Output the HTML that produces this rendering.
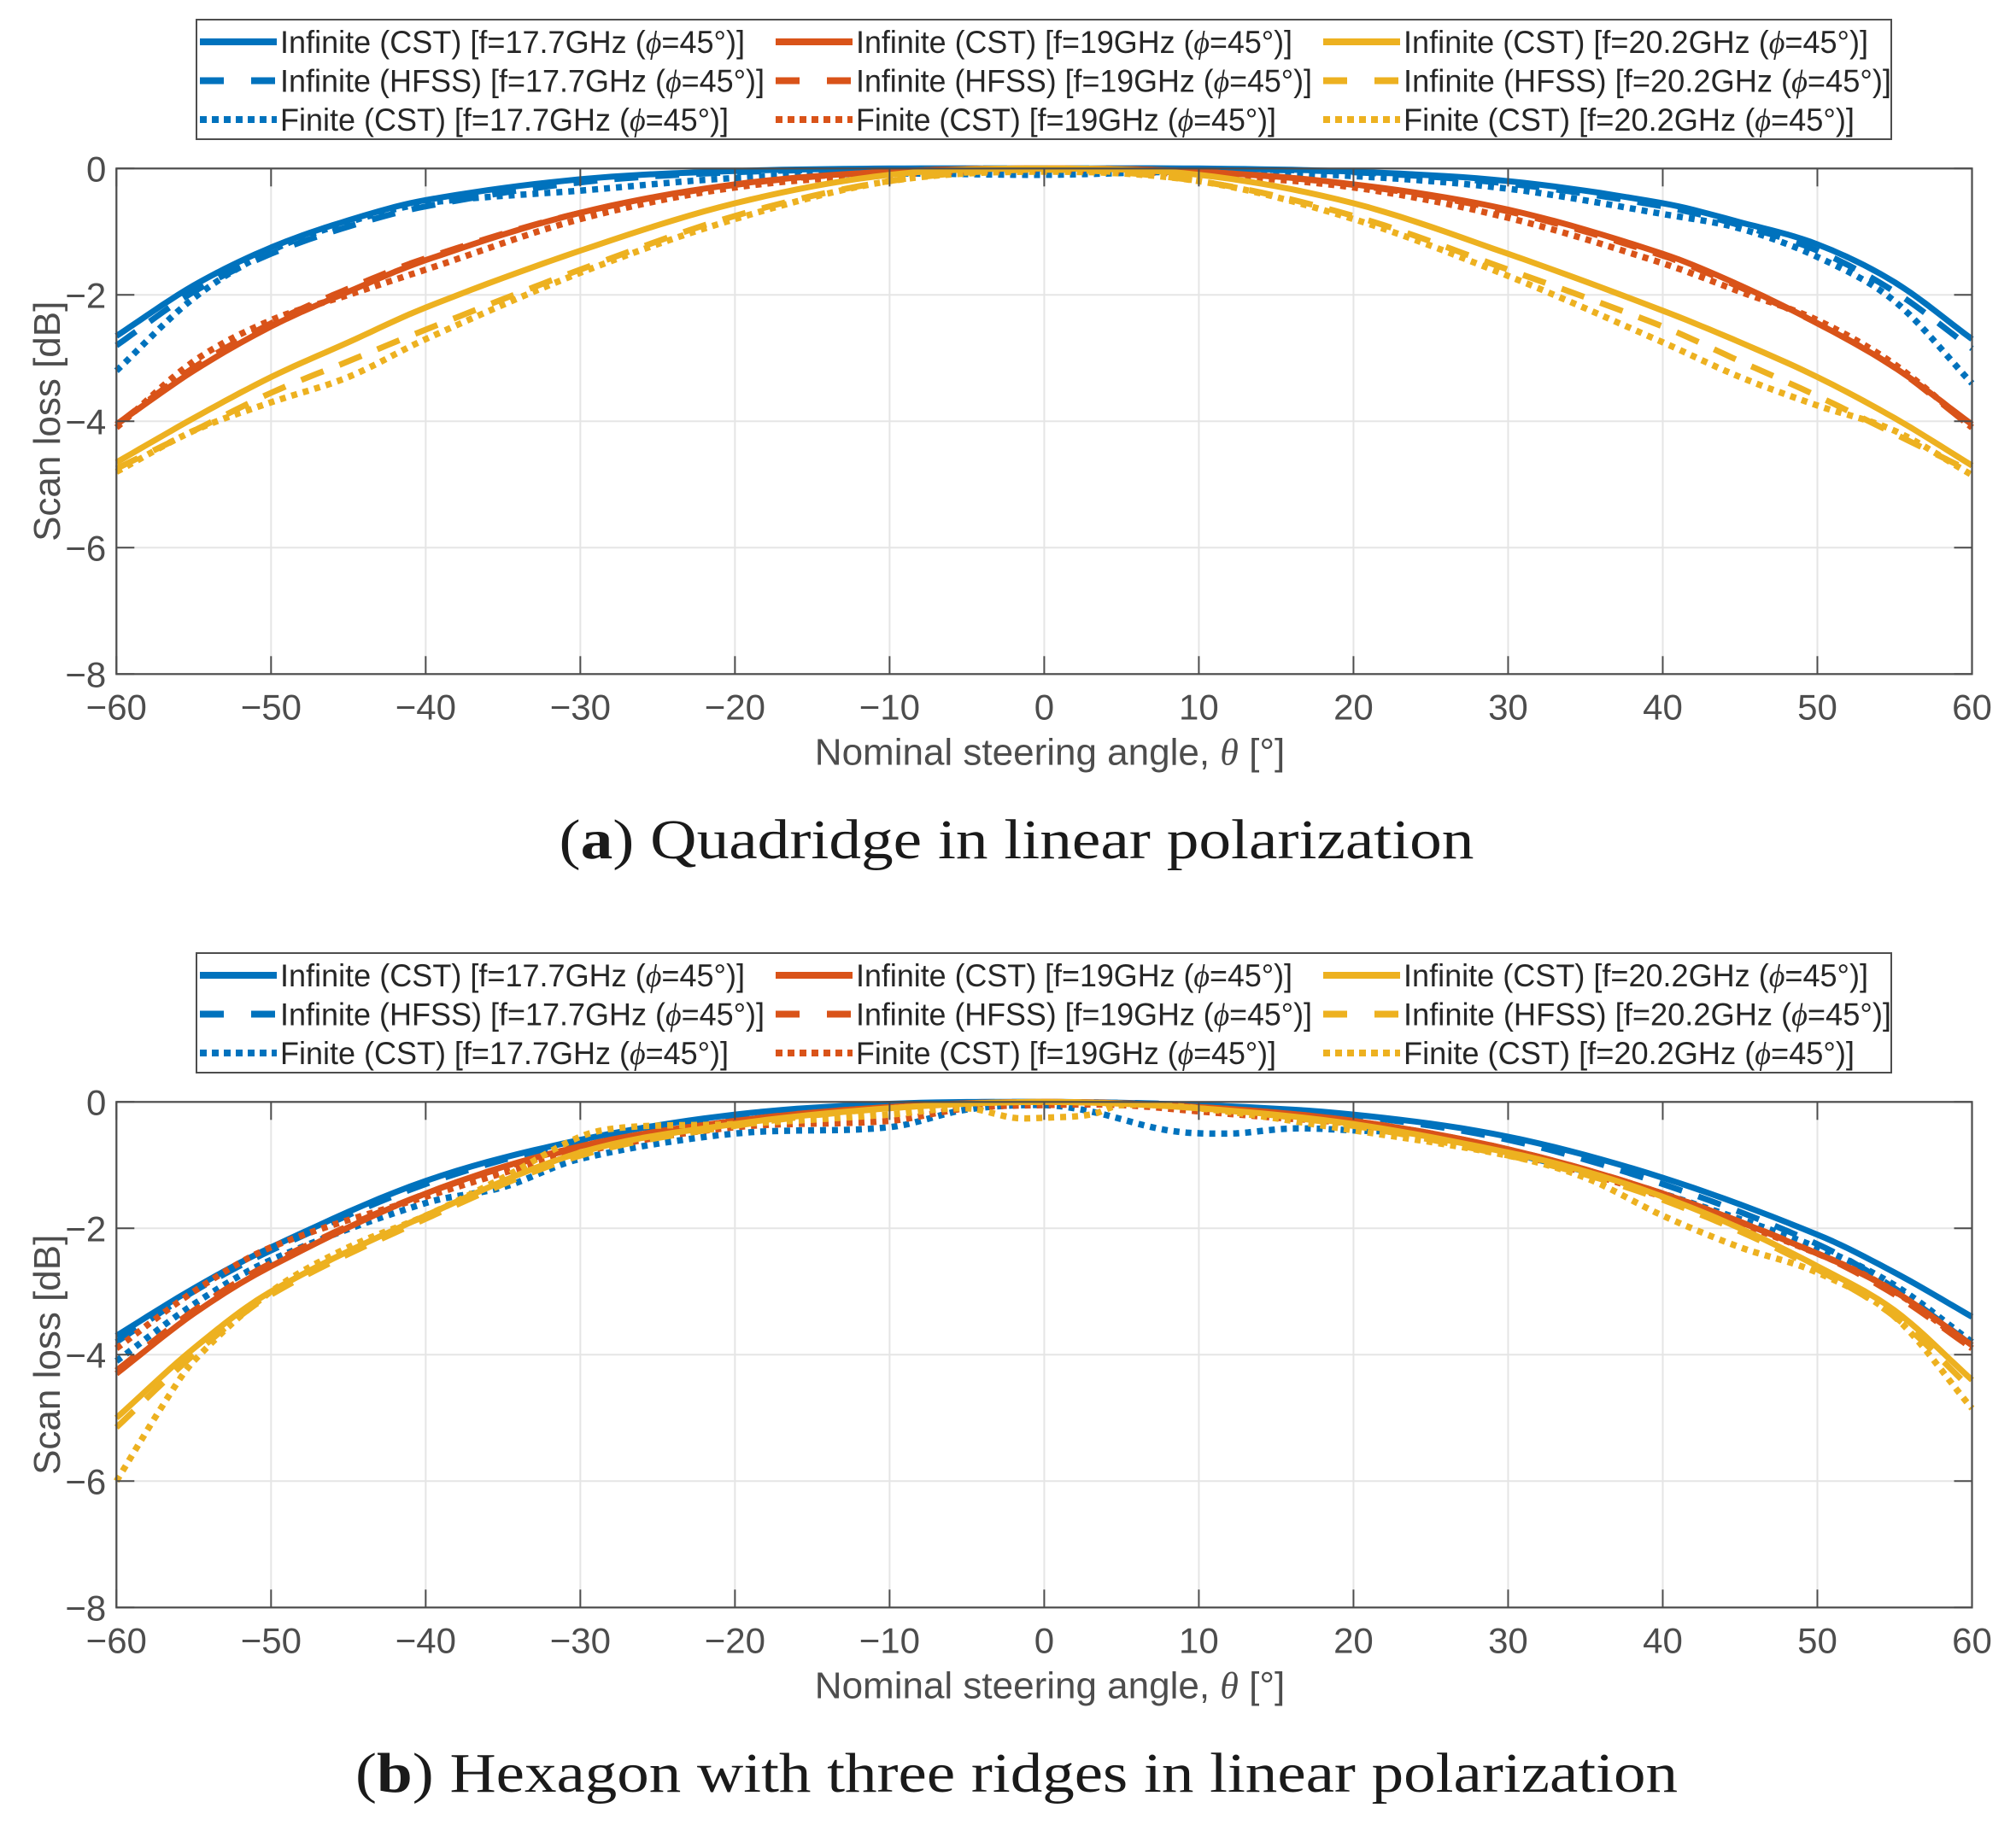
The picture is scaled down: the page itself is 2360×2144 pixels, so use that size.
<!DOCTYPE html>
<html><head><meta charset="utf-8"><style>
html,body{margin:0;padding:0;background:#fff;}
svg{display:block;}
</style></head><body>
<svg id="s" xmlns="http://www.w3.org/2000/svg" width="2360" height="2144" viewBox="0 0 2360 2144"></svg>
<script>
const S=document.getElementById('s');
const NS='http://www.w3.org/2000/svg';
function el(t,a,txt){const e=document.createElementNS(NS,t);for(const k in a)e.setAttribute(k,a[k]);if(txt!==undefined)e.textContent=txt;S.appendChild(e);return e;}
const L=136.3,R=2308.5,PX=(R-L)/120,PY=74;
const C=['#0072BD','#D95319','#EDB120'];
function interp(pts){ // monotone-ish catmull-rom sampling
  const out=[];
  for(let i=0;i<pts.length-1;i++){
    const p0=pts[Math.max(0,i-1)],p1=pts[i],p2=pts[i+1],p3=pts[Math.min(pts.length-1,i+2)];
    for(let t=0;t<1;t+=0.1){
      const t2=t*t,t3=t2*t;
      const x=p1[0]+(p2[0]-p1[0])*t;
      const m1=(p2[1]-p0[1])/(p2[0]-p0[0])*(p2[0]-p1[0]);
      const m2=(p3[1]-p1[1])/(p3[0]-p1[0])*(p2[0]-p1[0]);
      const y=(2*t3-3*t2+1)*p1[1]+(t3-2*t2+t)*m1+(-2*t3+3*t2)*p2[1]+(t3-t2)*m2;
      out.push([x,y]);
    }
  }
  out.push(pts[pts.length-1]);return out;
}
function axes(T){
  // grid
  for(let v=-60;v<=60;v+=10){const x=L+(v+60)*PX;el('line',{x1:x,y1:T,x2:x,y2:T+592,stroke:'#e5e5e5','stroke-width':2});}
  for(let v=0;v>=-8;v-=2){const y=T-v*PY;el('line',{x1:L,y1:y,x2:R,y2:y,stroke:'#e5e5e5','stroke-width':2});}
}
function frame(T){
  el('rect',{x:L,y:T,width:R-L,height:592,fill:'none',stroke:'#4d4d4d','stroke-width':2.2});
  for(let v=-60;v<=60;v+=10){const x=L+(v+60)*PX;
    el('line',{x1:x,y1:T+592,x2:x,y2:T+571,stroke:'#4d4d4d','stroke-width':2});
    el('line',{x1:x,y1:T,x2:x,y2:T+21,stroke:'#4d4d4d','stroke-width':2});
    el('text',{x:x,y:T+645,'font-family':'Liberation Sans, sans-serif','font-size':42,fill:'#4d4d4d','text-anchor':'middle'},(v<0?'\u2212':'')+Math.abs(v));}
  for(let v=0;v>=-8;v-=2){const y=T-v*PY;
    el('line',{x1:L,y1:y,x2:L+21,y2:y,stroke:'#4d4d4d','stroke-width':2});
    el('line',{x1:R,y1:y,x2:R-21,y2:y,stroke:'#4d4d4d','stroke-width':2});
    el('text',{x:L-12,y:y+15,'font-family':'Liberation Sans, sans-serif','font-size':42,fill:'#4d4d4d','text-anchor':'end'},(v<0?'\u2212':'')+Math.abs(v));}
  const xl=el('text',{x:1229,y:T+698,'font-family':'Liberation Sans, sans-serif','font-size':44,fill:'#4d4d4d','text-anchor':'middle'});
  xl.innerHTML='Nominal steering angle, <tspan font-family="Liberation Serif, serif" font-style="italic">θ</tspan> [°]';
  el('text',{x:0,y:0,transform:`translate(70,${T+296}) rotate(-90)`,'font-family':'Liberation Sans, sans-serif','font-size':44,fill:'#4d4d4d','text-anchor':'middle'},'Scan loss [dB]');
}
function series(T,data){
  data.forEach(([ci,style,pts])=>{
    const p=interp(pts).map(q=>[L+(q[0]+60)*PX,T-q[1]*PY]);
    const a={points:p.map(q=>q[0].toFixed(1)+','+q[1].toFixed(1)).join(' '),fill:'none',stroke:C[ci],'stroke-width':7,'stroke-linejoin':'round'};
    if(style==1)a['stroke-dasharray']='28 20';
    if(style==2){a['stroke-dasharray']='7 7';a['stroke-width']=7.5;}
    el('polyline',a);
  });
}
function legend(T){
  el('rect',{x:230,y:T,width:1984,height:140,fill:'#fff',stroke:'#4d4d4d','stroke-width':2});
  const cols=[231,905,1546];
  const freqs=['17.7','19','20.2'];
  const names=['Infinite (CST)','Infinite (HFSS)','Finite (CST)'];
  const widths=[[544,567,525],[511,534,492],[544,571,528]];
  for(let c=0;c<3;c++)for(let r=0;r<3;r++){
    const y=T+26+r*45.5;
    const a={x1:cols[c]+3,y1:y,x2:cols[c]+93,y2:y,stroke:C[c],'stroke-width':8};
    if(r==1)a['stroke-dasharray']='28 32';
    if(r==2){a['stroke-dasharray']='8 6';}
    el('line',a);
    const t=el('text',{x:cols[c]+97,y:y+13,'font-family':'Liberation Sans, sans-serif','font-size':37,fill:'#262626',textLength:widths[c][r],lengthAdjust:'spacingAndGlyphs'});
    t.innerHTML=`${names[r]} [f=${freqs[c]}GHz (<tspan font-family="Liberation Serif, serif" font-style="italic">ϕ</tspan>=45°)]`;
  }
}
// Plot 1
const T1=197.3,T2=1290.3;
axes(T1);
series(T1,[
 [0,0,[[-60,-2.65],[-55,-1.85],[-50,-1.25],[-45,-0.82],[-40,-0.5],[-30,-0.17],[-20,-0.04],[-10,0],[0,0],[10,0],[20,-0.05],[30,-0.2],[40,-0.55],[45,-0.85],[50,-1.2],[55,-1.8],[60,-2.7]]],
 [0,1,[[-60,-2.8],[-55,-1.95],[-50,-1.35],[-45,-0.92],[-40,-0.6],[-30,-0.22],[-20,-0.06],[-10,-0.01],[0,0],[10,-0.01],[20,-0.06],[30,-0.24],[40,-0.6],[45,-0.9],[50,-1.3],[55,-1.95],[60,-2.85]]],
 [0,2,[[-60,-3.2],[-55,-2.05],[-50,-1.3],[-45,-0.85],[-40,-0.55],[-30,-0.35],[-20,-0.15],[-10,-0.08],[0,-0.1],[10,-0.05],[20,-0.12],[30,-0.32],[40,-0.72],[45,-0.95],[50,-1.4],[55,-2.1],[60,-3.4]]],
 [1,0,[[-60,-4.05],[-55,-3.2],[-50,-2.5],[-45,-1.95],[-40,-1.45],[-30,-0.7],[-20,-0.25],[-10,-0.05],[0,0],[10,-0.05],[20,-0.25],[30,-0.65],[40,-1.35],[45,-1.85],[50,-2.45],[55,-3.15],[60,-4.05]]],
 [1,1,[[-60,-4.05],[-55,-3.15],[-50,-2.45],[-45,-1.9],[-40,-1.42],[-30,-0.7],[-20,-0.26],[-10,-0.05],[0,0],[10,-0.05],[20,-0.26],[30,-0.68],[40,-1.38],[45,-1.88],[50,-2.45],[55,-3.15],[60,-4.1]]],
 [1,2,[[-60,-4.1],[-55,-3.05],[-50,-2.4],[-45,-2.0],[-40,-1.6],[-30,-0.8],[-20,-0.3],[-10,-0.1],[0,-0.02],[10,-0.1],[20,-0.3],[30,-0.78],[40,-1.5],[45,-1.95],[50,-2.4],[55,-3.1],[60,-4.1]]],
 [2,0,[[-60,-4.65],[-55,-3.95],[-50,-3.3],[-45,-2.75],[-40,-2.2],[-30,-1.3],[-20,-0.55],[-10,-0.1],[0,0],[10,-0.1],[20,-0.55],[30,-1.35],[40,-2.25],[45,-2.75],[50,-3.3],[55,-3.95],[60,-4.7]]],
 [2,1,[[-60,-4.75],[-55,-4.15],[-50,-3.55],[-45,-3.05],[-40,-2.55],[-30,-1.6],[-20,-0.75],[-10,-0.2],[0,-0.02],[10,-0.2],[20,-0.75],[30,-1.6],[40,-2.5],[45,-3.05],[50,-3.6],[55,-4.2],[60,-4.8]]],
 [2,2,[[-60,-4.8],[-55,-4.15],[-50,-3.7],[-45,-3.3],[-40,-2.7],[-30,-1.65],[-20,-0.8],[-10,-0.2],[0,-0.05],[10,-0.2],[20,-0.8],[30,-1.7],[40,-2.75],[45,-3.3],[50,-3.75],[55,-4.15],[60,-4.85]]]
]);
frame(T1);legend(23);
// Plot 2
axes(T2);
series(T2,[
 [0,0,[[-60,-3.7],[-55,-2.95],[-50,-2.3],[-40,-1.25],[-30,-0.6],[-20,-0.2],[-10,-0.03],[0,0],[10,-0.05],[20,-0.2],[30,-0.55],[40,-1.2],[50,-2.1],[55,-2.7],[60,-3.4]]],
 [0,1,[[-60,-3.8],[-55,-3.0],[-50,-2.35],[-40,-1.3],[-30,-0.62],[-20,-0.22],[-10,-0.04],[0,0],[10,-0.05],[20,-0.22],[30,-0.6],[40,-1.3],[50,-2.25],[55,-2.95],[60,-3.85]]],
 [0,2,[[-60,-4.1],[-55,-3.2],[-50,-2.5],[-40,-1.6],[-35,-1.35],[-30,-0.9],[-20,-0.5],[-10,-0.4],[-5,-0.12],[0,-0.05],[3,-0.15],[8,-0.45],[12,-0.5],[16,-0.42],[20,-0.45],[25,-0.52],[30,-0.8],[35,-1.1],[40,-1.45],[50,-2.3],[55,-2.9],[60,-3.8]]],
 [1,0,[[-60,-4.3],[-55,-3.35],[-50,-2.6],[-40,-1.45],[-30,-0.7],[-20,-0.3],[-10,-0.08],[0,0],[10,-0.08],[20,-0.3],[30,-0.75],[40,-1.45],[50,-2.4],[55,-3.0],[60,-3.85]]],
 [1,1,[[-60,-4.25],[-55,-3.3],[-50,-2.55],[-40,-1.45],[-30,-0.72],[-20,-0.3],[-10,-0.08],[0,0],[10,-0.08],[20,-0.3],[30,-0.75],[40,-1.45],[50,-2.4],[55,-3.05],[60,-3.9]]],
 [1,2,[[-60,-3.9],[-55,-3.0],[-50,-2.3],[-40,-1.5],[-30,-0.8],[-20,-0.4],[-10,-0.3],[-5,-0.1],[0,-0.05],[5,-0.05],[10,-0.15],[15,-0.25],[20,-0.35],[30,-0.8],[40,-1.5],[50,-2.4],[55,-3.0],[60,-3.9]]],
 [2,0,[[-60,-5.0],[-55,-3.9],[-50,-3.0],[-40,-1.8],[-30,-0.8],[-20,-0.35],[-10,-0.1],[0,0],[10,-0.1],[20,-0.35],[30,-0.8],[35,-1.1],[40,-1.5],[45,-2.0],[50,-2.6],[55,-3.3],[60,-4.4]]],
 [2,1,[[-60,-5.15],[-55,-4.0],[-50,-3.05],[-40,-1.85],[-30,-0.85],[-20,-0.38],[-10,-0.1],[0,0],[10,-0.1],[20,-0.38],[30,-0.85],[35,-1.15],[40,-1.55],[45,-2.05],[50,-2.65],[55,-3.4],[60,-4.55]]],
 [2,2,[[-60,-6.0],[-57,-4.8],[-55,-4.1],[-50,-3.0],[-45,-2.3],[-40,-1.8],[-35,-1.2],[-30,-0.55],[-27,-0.4],[-20,-0.35],[-10,-0.2],[-5,-0.1],[-2,-0.25],[0,-0.25],[3,-0.2],[5,-0.05],[10,-0.1],[20,-0.45],[30,-0.85],[35,-1.2],[40,-1.8],[45,-2.3],[50,-2.7],[55,-3.4],[60,-4.85]]]
]);
frame(T2);legend(1116);
// captions
const c1=el('text',{x:1190,y:1005,'font-family':'Liberation Serif, serif','font-size':66,fill:'#1a1a1a','text-anchor':'middle',textLength:1071,lengthAdjust:'spacingAndGlyphs'});
c1.innerHTML='(<tspan font-weight="bold">a</tspan>) Quadridge in linear polarization';
const c2=el('text',{x:1190,y:2098,'font-family':'Liberation Serif, serif','font-size':66,fill:'#1a1a1a','text-anchor':'middle',textLength:1548,lengthAdjust:'spacingAndGlyphs'});
c2.innerHTML='(<tspan font-weight="bold">b</tspan>) Hexagon with three ridges in linear polarization';
</script>
</body></html>
